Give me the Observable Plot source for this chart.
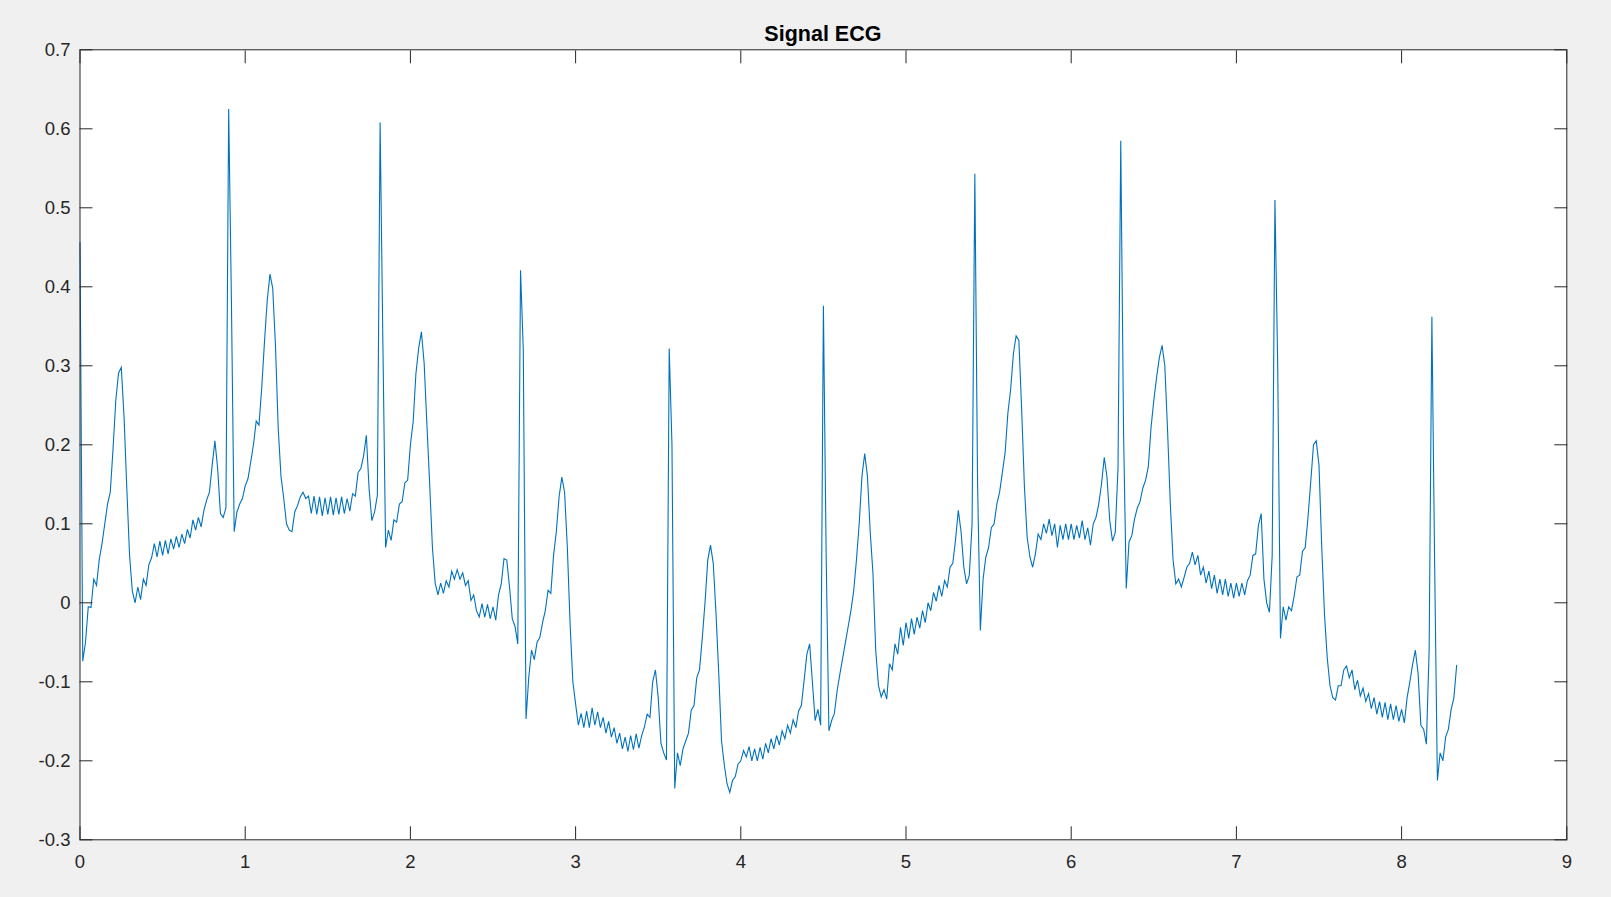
<!DOCTYPE html>
<html>
<head>
<meta charset="utf-8">
<script src="https://cdn.jsdelivr.net/npm/d3@7"></script>
<script src="https://cdn.jsdelivr.net/npm/@observablehq/plot@0.6"></script>
<style>
html, body { margin: 0; padding: 0; background: #f0f0f0; }
#wrap { position: relative; width: 1611px; height: 897px; background: #f0f0f0; overflow: hidden; }
#title { position: absolute; left: 822.9px; top: 24px; transform: translateX(-50%); font: bold 21.5px "Liberation Sans", Arial, sans-serif; line-height: 21.5px; color: #000; white-space: nowrap; }
#chart svg { display: block; }
</style>
</head>
<body>
<div id="wrap">
  <div id="chart"></div>
  <div id="title">Signal ECG</div>
</div>
<script>
const sampleRate = 60;

// ECG amplitude, one value per sample
const ecg = [
  0.456, -0.074, -0.05, -0.005, -0.006, 0.03, 0.022, 0.055, 0.075, 0.1,
  0.125, 0.14, 0.195, 0.256, 0.291, 0.298, 0.235, 0.145, 0.06, 0.015,
  0.0, 0.02, 0.004, 0.03, 0.022, 0.048, 0.057, 0.075, 0.058, 0.078,
  0.06, 0.079, 0.062, 0.081, 0.068, 0.084, 0.07, 0.087, 0.075, 0.093,
  0.082, 0.105, 0.092, 0.108, 0.096, 0.117, 0.13, 0.14, 0.174, 0.205,
  0.17, 0.113, 0.108, 0.12, 0.625, 0.38, 0.09, 0.115, 0.125, 0.132,
  0.148, 0.157, 0.178, 0.2, 0.23, 0.225, 0.272, 0.33, 0.383, 0.416,
  0.398, 0.325, 0.22, 0.16, 0.132, 0.1, 0.092, 0.09, 0.115, 0.123,
  0.134, 0.14, 0.132, 0.135, 0.113, 0.135, 0.112, 0.134, 0.11, 0.133,
  0.112, 0.134, 0.111, 0.133, 0.112, 0.134, 0.113, 0.132, 0.116, 0.138,
  0.135, 0.165, 0.17, 0.186, 0.212, 0.144, 0.104, 0.115, 0.136, 0.608,
  0.33, 0.07, 0.092, 0.079, 0.105, 0.102, 0.125, 0.128, 0.152, 0.155,
  0.2, 0.229, 0.29, 0.322, 0.343, 0.303, 0.225, 0.15, 0.07, 0.025,
  0.01, 0.025, 0.012, 0.028, 0.02, 0.04, 0.03, 0.042, 0.03, 0.038,
  0.022, 0.028, 0.003, 0.01, -0.01, -0.018, -0.001, -0.018, -0.002, -0.02,
  -0.005, -0.022, 0.01, 0.024, 0.056, 0.054, 0.02, -0.02, -0.03, -0.052,
  0.421, 0.32, -0.147, -0.094, -0.06, -0.072, -0.05, -0.044, -0.025, -0.01,
  0.016, 0.012, 0.06, 0.09, 0.134, 0.159, 0.14, 0.07, -0.027, -0.1,
  -0.128, -0.155, -0.14, -0.158, -0.137, -0.158, -0.133, -0.155, -0.138, -0.158,
  -0.145, -0.165, -0.15, -0.17, -0.158, -0.178, -0.165, -0.185, -0.17, -0.188,
  -0.168, -0.186, -0.166, -0.184, -0.168, -0.157, -0.141, -0.145, -0.1, -0.085,
  -0.12, -0.178, -0.19, -0.199, 0.322, 0.2, -0.235, -0.19, -0.206, -0.185,
  -0.175, -0.165, -0.136, -0.13, -0.095, -0.085, -0.045, 0.0, 0.054, 0.073,
  0.05, -0.014, -0.09, -0.175, -0.205, -0.229, -0.24, -0.225, -0.22, -0.204,
  -0.2, -0.187, -0.195, -0.182, -0.2, -0.185, -0.2, -0.183, -0.198, -0.178,
  -0.19, -0.172, -0.185, -0.168, -0.18, -0.162, -0.172, -0.155, -0.165, -0.148,
  -0.158, -0.137, -0.13, -0.098, -0.065, -0.052, -0.1, -0.149, -0.135, -0.155,
  0.376, 0.06, -0.162, -0.149, -0.14, -0.111, -0.09, -0.07, -0.05, -0.03,
  -0.01, 0.015, 0.054, 0.1, 0.16, 0.189, 0.16, 0.09, 0.037, -0.06,
  -0.105, -0.119, -0.11, -0.122, -0.077, -0.085, -0.052, -0.065, -0.031, -0.054,
  -0.025, -0.045, -0.02, -0.04, -0.018, -0.032, -0.01, -0.025, 0.0, -0.01,
  0.013, 0.002, 0.022, 0.008, 0.028, 0.02, 0.045, 0.05, 0.08, 0.117,
  0.09, 0.045, 0.024, 0.035, 0.1, 0.543, 0.15, -0.035, 0.03, 0.058,
  0.07, 0.095, 0.1, 0.125, 0.14, 0.165, 0.19, 0.24, 0.27, 0.315,
  0.338, 0.332, 0.245, 0.148, 0.083, 0.058, 0.045, 0.062, 0.087, 0.08,
  0.1, 0.088, 0.106, 0.085, 0.1, 0.07, 0.098, 0.08, 0.1, 0.08,
  0.1, 0.08, 0.098, 0.082, 0.104, 0.08, 0.095, 0.073, 0.1, 0.108,
  0.125, 0.15, 0.184, 0.159, 0.104, 0.078, 0.089, 0.17, 0.585, 0.22,
  0.018, 0.077, 0.085, 0.106, 0.12, 0.128, 0.145, 0.155, 0.172, 0.222,
  0.256, 0.285, 0.31, 0.326, 0.3, 0.218, 0.125, 0.054, 0.024, 0.03,
  0.02, 0.032, 0.045, 0.05, 0.064, 0.048, 0.06, 0.035, 0.045, 0.025,
  0.04, 0.018, 0.035, 0.012, 0.03, 0.01, 0.03, 0.008, 0.025, 0.006,
  0.025, 0.008, 0.025, 0.01, 0.028, 0.035, 0.06, 0.062, 0.098, 0.113,
  0.03, 0.0, -0.012, 0.06, 0.51, 0.3, -0.045, -0.005, -0.022, -0.005,
  -0.01, 0.009, 0.033, 0.035, 0.065, 0.07, 0.108, 0.153, 0.2, 0.205,
  0.174, 0.07, -0.015, -0.07, -0.105, -0.12, -0.123, -0.105, -0.105, -0.085,
  -0.08, -0.095, -0.085, -0.11, -0.098, -0.118, -0.108, -0.125, -0.115, -0.134,
  -0.12, -0.141, -0.125, -0.145, -0.126, -0.148, -0.128, -0.148, -0.13, -0.15,
  -0.135, -0.152, -0.12, -0.1, -0.078, -0.06, -0.09, -0.155, -0.16, -0.179,
  -0.06, 0.362, 0.05, -0.225, -0.19, -0.2, -0.17, -0.16, -0.135, -0.12,
  -0.079
];

const xTicks = [0, 1, 2, 3, 4, 5, 6, 7, 8, 9];
const yTicks = [-0.3, -0.2, -0.1, 0, 0.1, 0.2, 0.3, 0.4, 0.5, 0.6, 0.7];

const samples = ecg.map((v, i) => ({t: i / sampleRate, v}));

const axisColor = "#262626";
const fmt = d => String(d);

const chart = Plot.plot({
  width: 1611,
  height: 897,
  marginLeft: 79.5,
  marginRight: 44.7,
  marginTop: 49.3,
  marginBottom: 57.7,
  style: {
    background: "transparent",
    fontFamily: "'Liberation Sans', Arial, Helvetica, sans-serif",
    fontSize: "18.5px",
    color: axisColor,
    overflow: "visible"
  },
  x: {domain: [0, 9], label: null},
  y: {domain: [-0.3, 0.7], label: null},
  marks: [
    Plot.frame({fill: "white", stroke: "none"}),
    Plot.line(samples, {x: "t", y: "v", stroke: "#0072BD", strokeWidth: 1.1, strokeLinejoin: "miter", strokeMiterlimit: 4}),
    Plot.axisX(xTicks, {anchor: "bottom", tickSize: 0, tickPadding: 15, tickFormat: fmt, label: null, fill: axisColor}),
    Plot.axisX(xTicks, {anchor: "bottom", tickSize: -13, fill: "none", label: null, stroke: axisColor}),
    Plot.axisX(xTicks, {anchor: "top", tickSize: -13, fill: "none", label: null, stroke: axisColor}),
    Plot.axisY(yTicks, {anchor: "left", tickSize: 0, tickPadding: 9.5, tickFormat: fmt, label: null, fill: axisColor}),
    Plot.axisY(yTicks, {anchor: "left", tickSize: -13, fill: "none", label: null, stroke: axisColor}),
    Plot.axisY(yTicks, {anchor: "right", tickSize: -13, fill: "none", label: null, stroke: axisColor}),
    Plot.frame({stroke: axisColor, strokeWidth: 1, fill: "none"})
  ]
});

document.getElementById("chart").appendChild(chart);
</script>
</body>
</html>
